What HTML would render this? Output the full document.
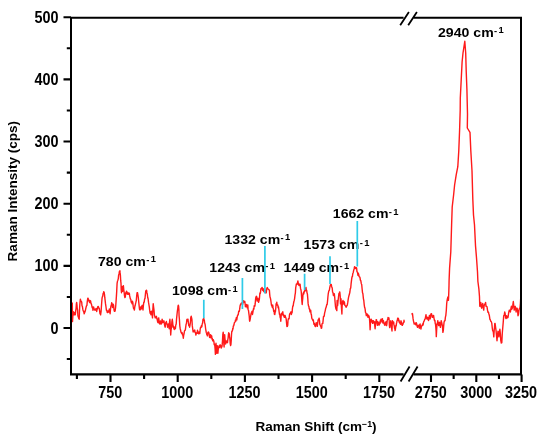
<!DOCTYPE html>
<html><head><meta charset="utf-8"><style>
html,body{margin:0;padding:0;background:#fff;width:550px;height:445px;overflow:hidden}
svg{display:block}
text{font-family:"Liberation Sans",Arial,sans-serif;font-weight:bold;fill:#000}
.t{font-size:16px}
.a{font-size:13px}
.n{font-size:12.5px}
</style></head><body>
<svg width="550" height="445" viewBox="0 0 550 445">
<rect width="550" height="445" fill="#fff"/>
<polyline points="72.3,302.5 72.5,321.6 72.8,316.9 73.1,313.7 73.3,311.8 73.6,312.6 73.9,314.3 74.2,314.8 74.5,312.5 74.7,313.7 75.0,314.4 75.3,314.8 75.7,310.9 76.1,308.1 76.4,303.5 76.7,302.5 77.0,305.3 77.2,308.1 77.6,310.2 77.9,316.0 78.3,316.8 78.7,318.2 79.0,317.0 79.2,319.3 79.5,310.4 79.8,304.7 80.1,301.6 80.4,299.1 80.8,301.5 81.3,301.3 81.7,302.0 82.0,305.8 82.4,306.4 82.8,309.2 83.2,310.9 83.7,311.5 84.2,313.8 84.6,312.6 85.0,311.8 85.4,310.3 86.0,307.6 86.5,305.8 86.9,305.5 87.3,301.3 87.8,298.1 88.2,298.5 88.6,300.8 88.9,300.2 89.2,300.5 89.6,302.5 89.9,300.5 90.2,301.3 90.6,300.9 91.0,303.6 91.4,303.9 91.8,305.8 92.2,307.7 92.5,307.0 92.7,307.4 92.9,310.3 93.2,309.0 93.6,307.0 94.0,308.7 94.4,309.2 94.7,309.2 95.0,310.3 95.5,309.7 95.9,308.7 96.3,308.4 96.7,311.5 97.1,308.6 97.4,309.2 97.8,306.6 98.3,306.4 98.8,308.0 99.2,308.1 99.6,310.6 100.0,313.7 100.3,313.5 100.6,314.8 100.8,313.5 101.1,311.5 101.4,306.8 101.7,302.5 102.0,298.9 102.3,296.9 102.7,296.4 103.1,293.5 103.4,293.4 103.7,291.8 104.1,292.2 104.5,294.6 104.8,297.7 105.1,300.2 105.5,303.7 106.0,307.0 106.4,310.2 106.8,310.3 107.2,312.4 107.6,312.6 107.7,312.2 108.1,310.9 108.5,311.4 108.9,312.1 109.3,309.0 109.7,309.9 110.1,313.7 110.5,309.5 110.9,305.9 111.3,305.3 111.7,302.7 112.1,303.7 112.5,307.5 112.8,305.8 113.2,304.3 113.6,305.2 114.0,309.8 114.4,311.3 114.8,311.4 115.2,310.5 115.6,307.5 116.0,302.2 116.4,296.4 116.7,291.4 117.1,283.3 117.5,281.0 117.9,280.2 118.3,278.6 118.6,275.4 119.0,273.9 119.4,271.5 119.7,271.4 119.9,270.7 120.1,272.9 120.4,275.4 120.7,280.7 121.0,283.3 121.2,289.8 121.5,292.7 121.8,289.5 122.1,286.4 122.3,289.5 122.6,291.2 123.0,286.7 123.4,285.7 123.8,290.0 124.2,292.7 124.5,295.7 124.9,297.5 125.3,297.1 125.7,292.7 126.1,293.2 126.5,291.2 126.9,291.9 127.3,294.3 127.7,293.1 128.1,292.7 128.5,294.2 128.9,294.3 129.3,293.2 129.7,295.9 130.0,297.3 130.4,299.0 130.8,299.3 131.2,302.2 131.6,301.4 132.0,303.7 132.4,301.2 132.8,302.2 133.2,306.4 133.6,308.5 134.0,307.8 134.4,310.0 134.8,306.7 135.2,305.3 135.6,303.3 135.9,302.2 136.3,300.5 136.7,295.9 137.1,292.6 137.5,292.7 137.9,294.9 138.3,297.5 138.7,301.6 139.1,305.3 139.5,309.2 139.9,310.0 140.3,309.7 140.7,306.9 141.1,309.1 141.4,308.5 141.8,306.0 142.2,305.3 142.6,307.3 143.0,310.0 143.4,305.5 143.8,302.2 144.2,302.1 144.6,299.0 145.0,298.5 145.4,294.3 145.8,290.9 146.2,290.4 146.6,290.3 146.9,292.7 147.3,294.0 147.7,297.5 148.1,298.7 148.5,302.2 148.9,304.5 149.3,306.9 149.7,310.4 150.1,313.2 150.5,313.0 150.9,314.7 151.3,311.2 151.7,311.6 152.1,314.4 152.5,317.9 152.8,310.3 153.2,303.7 153.6,307.2 154.0,310.0 154.4,315.0 154.8,316.3 155.2,317.9 155.6,317.9 156.0,317.2 156.4,316.3 156.8,318.4 157.2,319.5 157.6,321.7 158.0,322.6 158.3,318.5 158.7,317.9 158.9,319.3 159.3,323.3 159.7,324.0 160.1,323.6 160.5,320.9 160.9,324.0 161.3,324.0 161.7,322.9 162.1,319.3 162.5,320.5 162.9,322.5 163.3,321.3 163.6,320.9 164.0,320.9 164.4,324.0 164.8,326.1 165.2,327.2 165.6,323.1 166.0,322.5 166.4,321.5 166.8,324.0 167.2,324.4 167.6,327.2 168.0,324.2 168.4,324.0 168.8,325.7 169.2,328.7 169.5,322.2 169.9,319.3 170.3,325.2 170.7,335.0 171.1,329.7 171.5,327.2 171.9,321.6 172.3,319.3 172.7,322.7 173.1,327.2 173.5,326.1 173.9,328.7 174.3,329.5 174.7,327.2 175.0,328.4 175.4,328.7 175.8,325.0 176.2,324.0 176.6,318.3 177.0,314.6 177.4,310.8 177.8,308.3 178.0,306.2 178.3,305.2 178.6,306.0 178.9,309.9 179.1,316.0 179.4,319.3 179.8,326.0 180.2,328.7 180.6,330.2 180.9,331.9 181.3,332.6 181.7,333.5 182.1,332.6 182.5,335.0 182.9,335.0 183.3,338.2 183.7,335.2 184.1,333.5 184.5,330.9 184.9,330.3 185.3,330.1 185.7,327.2 186.1,324.2 186.4,324.0 186.8,319.8 187.2,319.3 187.6,321.1 188.0,319.3 188.4,322.6 188.8,325.6 189.2,325.0 189.6,327.2 190.0,325.0 190.4,322.5 190.8,317.4 191.2,316.2 191.6,317.8 191.9,319.3 192.3,325.9 192.7,328.7 193.1,331.8 193.5,331.9 193.9,331.9 194.3,330.3 194.7,330.1 195.1,331.9 195.5,332.9 195.9,335.0 196.3,332.9 196.7,333.5 197.1,333.0 197.5,330.3 197.8,332.0 198.2,333.5 198.6,333.8 199.0,331.9 199.4,332.0 199.8,333.5 200.2,329.2 200.6,327.2 201.0,327.6 201.4,325.6 201.8,326.8 202.2,324.0 202.6,323.1 203.0,319.3 203.3,319.9 203.7,318.0 204.0,320.2 204.3,319.9 204.6,322.7 204.9,323.6 205.2,325.0 205.6,328.5 205.9,330.4 206.2,332.2 206.5,332.9 206.8,334.7 207.1,333.4 207.4,335.9 207.7,332.8 208.0,333.5 208.3,332.0 208.6,332.2 209.0,333.1 209.3,335.9 209.6,337.3 209.9,337.2 210.2,337.8 210.5,334.7 210.8,335.1 211.1,335.9 211.4,337.7 211.7,335.9 212.0,339.1 212.3,338.4 212.7,340.8 213.0,339.6 213.3,339.7 213.6,340.9 213.9,341.6 214.2,344.6 214.5,344.1 214.8,345.8 215.1,348.9 215.4,354.4 215.7,347.7 216.0,343.3 216.4,348.8 216.7,353.2 217.0,351.1 217.3,345.8 217.6,350.9 217.9,353.2 218.2,350.0 218.5,347.0 218.8,347.0 219.1,345.8 219.4,347.6 219.8,347.0 220.1,344.8 220.4,345.8 220.7,346.4 221.0,345.8 221.3,348.1 221.6,347.0 221.9,346.9 222.2,344.6 222.5,340.6 222.8,334.7 223.0,333.4 223.2,332.2 223.5,335.3 223.7,340.9 223.9,345.1 224.1,347.0 224.4,340.2 224.7,334.7 225.0,339.0 225.3,340.9 225.6,344.0 225.9,343.3 226.2,341.7 226.5,340.9 226.9,341.1 227.2,342.1 227.5,342.7 227.8,339.6 228.1,338.1 228.4,334.7 228.7,332.8 229.0,333.5 229.3,333.8 229.6,337.2 229.9,338.9 230.2,343.3 230.6,345.6 230.9,344.6 231.2,340.9 231.5,334.7 231.8,331.4 232.1,331.0 232.4,331.1 232.7,328.5 233.0,329.2 233.3,326.0 233.6,326.1 234.0,324.8 234.3,323.0 234.6,322.3 234.9,322.2 235.2,321.7 235.5,319.9 235.8,321.1 236.3,317.6 236.8,319.8 237.2,317.0 237.7,314.9 238.2,314.9 238.7,311.3 239.2,311.5 239.6,309.7 240.1,305.7 240.6,304.3 241.1,303.7 241.4,302.9 241.7,303.7 242.1,303.3 242.4,305.0 242.7,304.0 243.1,302.3 243.4,300.7 243.8,301.0 244.1,301.3 244.4,302.3 244.8,301.5 245.1,303.7 245.4,306.7 245.8,306.4 246.1,304.8 246.5,304.4 246.8,305.9 247.1,307.7 247.5,306.7 247.8,305.0 248.1,309.4 248.5,310.4 248.8,312.8 249.2,315.8 249.5,320.2 249.8,321.2 250.2,319.2 250.5,317.2 250.8,315.3 251.2,313.1 251.5,312.5 251.8,311.8 252.2,311.2 252.5,314.5 252.9,312.2 253.2,310.4 253.5,308.5 253.9,309.1 254.2,305.8 254.5,306.4 254.9,306.2 255.2,303.7 255.6,299.0 255.9,297.0 256.2,296.5 256.6,296.3 256.9,299.5 257.2,301.0 257.6,299.9 257.9,298.3 258.2,299.6 258.6,302.3 258.9,301.1 259.3,299.6 259.6,296.5 259.9,292.9 260.3,293.4 260.6,291.6 260.9,288.6 261.3,288.9 261.6,288.4 262.0,287.5 262.3,287.9 262.6,290.2 263.0,288.6 263.3,288.9 263.6,291.3 264.0,291.6 264.3,291.9 264.6,292.2 265.0,291.5 265.3,290.2 265.7,292.6 266.0,292.9 266.3,292.5 266.7,288.9 267.0,288.0 267.3,287.5 267.7,288.6 268.0,288.9 268.4,289.2 268.7,289.5 269.0,289.9 269.4,290.2 269.7,294.4 270.0,297.0 270.4,298.1 270.7,299.6 271.1,302.5 271.4,305.0 271.7,305.6 272.1,306.4 272.4,307.5 272.7,305.0 273.1,307.9 273.4,309.1 273.7,311.3 274.1,310.4 274.4,314.2 274.8,314.5 275.1,312.2 275.4,311.8 275.8,308.0 276.1,303.7 276.4,304.8 276.8,302.3 277.1,305.1 277.5,305.0 277.8,304.9 278.1,307.7 278.5,306.9 278.8,309.1 279.1,311.5 279.5,314.5 279.8,314.1 280.1,317.2 280.5,318.2 280.8,321.2 281.2,315.5 281.5,313.1 281.8,314.5 282.2,314.5 282.5,314.3 282.8,311.8 283.2,315.4 283.5,315.8 283.9,315.1 284.2,317.2 284.7,317.2 285.1,315.4 285.5,317.2 285.8,317.6 286.2,319.1 286.6,323.5 286.9,326.5 287.3,326.4 287.7,325.3 288.0,320.6 288.4,318.7 288.8,319.1 289.1,318.7 289.5,314.7 289.9,313.6 290.2,313.2 290.6,312.5 291.0,311.8 291.3,314.5 291.7,313.2 292.1,312.4 292.4,308.9 292.8,306.0 293.2,305.9 293.5,303.5 293.9,301.5 294.3,300.2 294.6,298.6 295.0,295.1 295.4,292.8 295.7,287.9 296.1,285.5 296.4,284.0 296.8,284.0 297.2,284.2 297.5,282.5 297.9,281.0 298.3,283.3 298.6,284.6 299.0,285.5 299.4,284.5 299.7,284.0 300.1,284.3 300.5,288.4 300.8,289.2 301.2,291.3 301.6,296.9 301.9,301.5 302.2,304.5 302.4,301.6 302.7,298.6 303.0,294.0 303.4,292.8 303.8,294.0 304.1,291.3 304.5,291.7 304.9,289.9 305.2,291.0 305.6,288.4 306.0,287.5 306.3,289.9 306.7,290.4 307.0,292.8 307.4,293.9 307.8,298.6 308.1,303.4 308.5,305.9 308.9,306.5 309.2,308.9 309.6,308.8 310.0,311.8 310.3,310.7 310.7,310.3 311.1,314.2 311.4,314.7 311.8,318.2 312.2,319.1 312.5,318.9 312.9,320.6 313.3,319.9 313.6,322.0 314.0,324.4 314.4,323.5 314.7,325.2 315.1,326.4 315.5,326.5 315.8,324.9 316.2,322.6 316.5,323.5 316.9,323.2 317.3,326.4 317.6,324.2 318.0,320.6 318.4,319.5 318.7,319.1 319.1,318.1 319.5,320.6 319.8,324.5 320.2,324.9 320.6,326.2 320.9,326.4 321.3,328.3 321.7,327.9 322.0,324.0 322.4,323.5 322.8,323.4 323.1,320.6 323.5,316.6 323.9,316.2 324.2,316.2 324.6,313.2 325.0,311.6 325.3,310.3 325.7,308.2 326.1,307.4 326.4,306.1 326.8,304.5 327.1,304.7 327.5,301.5 327.9,297.0 328.2,294.2 328.8,290.8 329.3,290.5 329.8,287.4 330.4,284.9 330.9,284.5 331.3,284.4 331.7,287.0 332.2,287.8 332.6,292.1 333.0,292.6 333.4,295.5 333.9,293.9 334.3,293.8 334.7,297.2 335.1,302.2 335.5,306.6 336.0,309.0 336.4,309.0 336.8,310.6 337.0,305.6 337.1,300.5 337.4,301.8 337.6,305.6 338.1,300.8 338.5,297.2 338.9,293.5 339.3,293.8 339.6,291.9 339.8,292.1 340.2,296.1 340.5,303.9 340.8,302.3 341.0,298.8 341.4,306.6 341.9,314.0 342.1,306.9 342.4,302.2 342.7,301.3 343.0,300.5 343.3,304.0 343.5,303.9 344.0,301.5 344.4,302.2 344.8,305.2 345.2,305.6 345.7,306.2 346.1,307.3 346.5,306.4 346.9,305.6 347.3,305.2 347.8,302.2 348.2,299.3 348.6,297.2 349.0,295.5 349.5,293.8 349.9,292.0 350.3,288.7 350.7,288.1 351.1,283.7 351.6,279.7 352.0,276.9 352.4,276.6 352.8,273.5 353.2,272.7 353.7,270.2 354.1,269.0 354.5,266.8 354.9,267.3 355.4,268.5 355.8,267.5 356.2,267.6 356.6,268.0 357.0,271.9 357.5,272.1 357.9,275.2 358.3,273.1 358.7,274.4 359.1,276.6 359.6,276.9 360.0,277.6 360.4,280.3 360.8,280.6 361.3,283.7 361.7,284.5 362.1,288.7 362.5,292.6 362.9,293.8 363.4,298.6 363.8,300.5 364.2,304.6 364.6,307.3 365.1,308.9 365.5,312.3 365.9,313.0 366.3,315.7 366.7,314.0 367.2,314.0 367.6,315.5 368.0,317.4 368.4,315.2 368.8,315.7 368.9,316.3 369.2,317.3 369.5,318.6 369.8,323.3 370.1,329.8 370.3,326.6 370.6,319.7 370.9,321.3 371.2,319.2 371.5,320.8 371.7,322.0 372.0,320.4 372.3,320.8 372.6,323.3 372.9,322.0 373.1,320.6 373.4,320.8 373.7,321.4 374.0,323.1 374.3,321.7 374.6,324.2 374.8,326.0 375.1,328.7 375.4,325.2 375.7,322.0 376.0,320.9 376.2,319.7 376.5,319.6 376.8,322.0 377.1,323.7 377.4,325.3 377.6,321.7 377.9,322.0 378.2,322.1 378.5,324.2 378.8,323.1 379.0,325.3 379.3,324.4 379.6,324.2 379.9,321.8 380.2,323.1 380.4,320.1 380.7,320.8 381.0,319.2 381.3,319.2 381.6,319.5 381.9,322.0 382.1,320.6 382.4,318.6 382.7,321.0 383.0,323.1 383.3,323.0 383.5,320.8 383.8,322.6 384.1,323.1 384.4,324.5 384.7,324.2 384.9,325.4 385.2,323.7 385.5,322.4 385.8,322.0 386.1,321.8 386.3,323.1 386.6,325.6 386.9,324.2 387.2,320.6 387.5,319.7 387.8,319.5 388.0,317.5 388.3,318.6 388.6,318.6 388.9,317.9 389.2,320.8 389.4,325.6 389.7,327.6 390.0,326.9 390.3,323.1 390.6,322.5 390.8,320.8 391.1,323.5 391.4,324.2 391.7,328.8 392.0,331.0 392.2,324.5 392.5,320.8 392.8,322.1 393.1,323.1 393.4,322.5 393.7,322.0 393.9,325.0 394.2,325.3 394.5,328.2 394.8,328.7 395.1,330.6 395.3,329.8 395.6,327.9 395.9,325.3 396.2,325.8 396.5,323.1 396.7,322.7 397.0,320.8 397.3,320.5 397.6,318.6 397.9,318.1 398.1,319.7 398.4,318.4 398.7,320.8 399.0,320.2 399.3,322.5 399.6,322.3 399.8,323.1 400.1,322.1 400.4,324.2 400.7,323.9 401.0,320.8 401.2,321.6 401.5,322.0 401.8,324.2 402.1,325.3 402.4,325.3 402.6,324.2 402.9,324.4 403.2,323.1 403.5,322.5 403.8,322.0 404.0,320.3 404.3,322.5" fill="none" stroke="#ff1a1a" stroke-width="1.4" stroke-linejoin="round"/>
<polyline points="412.0,313.0 412.3,314.6 412.5,313.8 413.0,318.2 413.4,320.6 413.8,322.3 414.2,324.0 414.6,323.7 415.1,323.1 415.5,324.6 415.9,324.8 416.3,322.6 416.7,324.0 417.2,326.6 417.6,327.3 418.0,325.5 418.4,325.6 418.9,325.2 419.3,328.2 419.7,325.1 420.1,324.0 420.5,327.4 421.0,329.0 421.4,326.2 421.8,325.6 422.2,325.8 422.6,324.0 423.1,325.0 423.5,322.3 423.9,321.4 424.3,320.6 424.8,319.3 425.2,318.9 425.6,316.7 426.0,314.7 426.4,317.5 426.9,318.9 427.3,319.1 427.7,317.2 428.1,319.4 428.5,320.6 429.0,318.6 429.4,315.5 429.8,315.5 430.2,318.9 430.7,315.0 431.1,313.8 431.5,313.7 431.9,315.5 432.3,317.3 432.8,317.2 433.2,315.6 433.6,315.5 434.0,318.3 434.5,320.6 434.9,320.3 435.3,324.0 435.5,323.9 435.8,327.3 436.1,331.0 436.3,336.6 436.6,331.0 437.0,324.0 437.4,323.0 437.8,320.6 438.2,323.8 438.7,325.6 439.1,323.1 439.5,322.3 439.9,324.9 440.4,327.3 440.8,323.8 441.2,320.6 441.6,322.1 442.0,324.0 442.5,326.7 442.9,332.4 443.3,330.6 443.7,325.6 444.1,321.9 444.6,320.6 445.0,320.8 445.4,317.2 445.8,315.6 446.3,310.5 446.7,303.5 447.1,300.4 447.5,298.5 447.9,297.0 448.2,299.9 448.4,300.4 448.6,298.0 448.8,291.9 449.0,285.8 449.1,280.1 449.6,267.9 450.8,251.7 451.6,225.0 452.2,207.0 453.6,195.0 454.6,185.0 456.2,174.8 457.8,166.7 458.8,150.5 459.6,130.0 460.2,110.0 460.3,98.0 461.2,80.0 462.1,62.0 463.0,53.0 464.8,41.3 465.7,53.0 466.2,71.0 466.9,89.0 467.5,114.0 467.3,128.0 470.0,132.3 470.8,150.5 472.0,170.7 472.8,199.0 473.5,215.0 474.5,225.0 475.5,245.6 476.5,257.8 477.5,272.0 477.9,281.5 478.9,289.1 479.5,296.7 479.6,300.6 479.8,306.3 480.3,303.2 480.8,302.5 481.3,307.1 481.7,308.2 482.2,304.7 482.7,303.4 483.2,307.1 483.7,310.1 484.1,305.8 484.6,304.4 485.1,303.5 485.6,302.5 486.0,306.2 486.5,306.3 487.0,306.7 487.5,310.1 488.0,312.4 488.4,312.0 488.9,314.0 489.4,315.8 489.9,319.3 490.3,319.7 490.8,321.4 491.3,321.6 491.8,323.4 492.2,327.3 492.7,330.8 493.2,331.1 493.5,333.9 493.8,336.9 494.2,330.2 494.5,327.3 494.8,323.4 495.1,323.5 495.6,327.3 496.1,331.1 496.5,335.7 497.0,340.7 497.5,335.1 498.0,331.1 498.5,332.6 498.9,336.9 499.4,332.4 499.9,329.2 500.4,334.2 500.8,340.7 501.3,343.0 501.8,342.6 502.3,333.0 502.8,327.3 503.2,322.6 503.7,315.8 504.2,315.3 504.7,312.0 505.1,313.4 505.6,317.8 506.1,318.5 506.6,315.8 507.1,317.7 507.5,317.8 508.0,317.5 508.5,313.9 509.0,311.2 509.4,310.1 509.9,310.6 510.4,312.0 510.9,308.7 511.4,306.3 511.8,309.2 512.3,308.2 512.8,305.2 513.3,301.5 513.7,305.3 514.2,310.1 514.7,307.9 515.2,306.3 515.6,308.3 516.1,312.0 516.6,308.3 517.1,308.2 517.6,310.4 518.0,315.8 518.5,314.3 519.0,310.1 519.5,308.3 519.9,308.2 520.4,303.3 520.9,294.8" fill="none" stroke="#ff1a1a" stroke-width="1.4" stroke-linejoin="round"/>
<path d="M71,17.7 H403.6 M413.6,17.7 H521 V374.4 M71,17.7 V374.4" stroke="#000" stroke-width="2" fill="none"/>
<path d="M70,374.4 H403.6 M413.6,374.4 H522" stroke="#000" stroke-width="2.3" fill="none"/>
<path d="M400.6,381.5 L409.6,366.5 M408.6,381.5 L417.6,366.5 M400.2,25.2 L408.9,12 M408.2,25.2 L416.9,12" stroke="#000" stroke-width="1.8" fill="none"/>
<path d="M63.5,328.00 H71 M63.5,265.85 H71 M63.5,203.70 H71 M63.5,141.55 H71 M63.5,79.40 H71 M63.5,17.25 H71 M66.8,359.07 H71 M66.8,296.93 H71 M66.8,234.77 H71 M66.8,172.62 H71 M66.8,110.47 H71 M66.8,48.32 H71 M110.50,374.4 V382 M177.70,374.4 V382 M244.90,374.4 V382 M312.10,374.4 V382 M379.30,374.4 V382 M76.90,374.4 V379 M144.10,374.4 V379 M211.30,374.4 V379 M278.50,374.4 V379 M345.70,374.4 V379 M431.00,374.4 V382 M476.30,374.4 V382 M521.60,374.4 V382 M453.65,374.4 V379 M498.95,374.4 V379" stroke="#000" stroke-width="2.1" fill="none"/>
<text transform="translate(58.5,333.50) scale(0.9,1)" text-anchor="end" class="t">0</text>
<text transform="translate(58.5,271.35) scale(0.9,1)" text-anchor="end" class="t">100</text>
<text transform="translate(58.5,209.20) scale(0.9,1)" text-anchor="end" class="t">200</text>
<text transform="translate(58.5,147.05) scale(0.9,1)" text-anchor="end" class="t">300</text>
<text transform="translate(58.5,84.90) scale(0.9,1)" text-anchor="end" class="t">400</text>
<text transform="translate(58.5,22.75) scale(0.9,1)" text-anchor="end" class="t">500</text>
<text transform="translate(110.20,398.3) scale(0.9,1)" text-anchor="middle" class="t">750</text>
<text transform="translate(177.20,398.3) scale(0.9,1)" text-anchor="middle" class="t">1000</text>
<text transform="translate(244.60,398.3) scale(0.9,1)" text-anchor="middle" class="t">1250</text>
<text transform="translate(311.70,398.3) scale(0.9,1)" text-anchor="middle" class="t">1500</text>
<text transform="translate(378.90,398.3) scale(0.9,1)" text-anchor="middle" class="t">1750</text>
<text transform="translate(430.70,398.3) scale(0.9,1)" text-anchor="middle" class="t">2750</text>
<text transform="translate(476.20,398.3) scale(0.9,1)" text-anchor="middle" class="t">3000</text>
<text transform="translate(521.00,398.3) scale(0.9,1)" text-anchor="middle" class="t">3250</text>
<text transform="translate(17,191.2) rotate(-90) scale(1.04,1)" text-anchor="middle" class="a">Raman Intensity (cps)</text>
<text transform="translate(316,430.9) scale(1.04,1)" text-anchor="middle" class="a">Raman Shift (cm<tspan font-size="8.5" dy="-3.6">−1</tspan><tspan dy="3.6">)</tspan></text>
<text transform="translate(98,265.7) scale(1.13,1)" class="n">780 cm<tspan font-size="8.3" dy="-2.8" dx="0.3">-</tspan><tspan font-size="8.3" dx="1.2" dy="-0.6">1</tspan></text>
<text transform="translate(172,295.3) scale(1.13,1)" class="n">1098 cm<tspan font-size="8.3" dy="-2.8" dx="0.3">-</tspan><tspan font-size="8.3" dx="1.2" dy="-0.6">1</tspan></text>
<text transform="translate(209.3,272.2) scale(1.13,1)" class="n">1243 cm<tspan font-size="8.3" dy="-2.8" dx="0.3">-</tspan><tspan font-size="8.3" dx="1.2" dy="-0.6">1</tspan></text>
<text transform="translate(224.5,243.5) scale(1.13,1)" class="n">1332 cm<tspan font-size="8.3" dy="-2.8" dx="0.3">-</tspan><tspan font-size="8.3" dx="1.2" dy="-0.6">1</tspan></text>
<text transform="translate(283.4,272) scale(1.13,1)" class="n">1449 cm<tspan font-size="8.3" dy="-2.8" dx="0.3">-</tspan><tspan font-size="8.3" dx="1.2" dy="-0.6">1</tspan></text>
<text transform="translate(303.6,249) scale(1.13,1)" class="n">1573 cm<tspan font-size="8.3" dy="-2.8" dx="0.3">-</tspan><tspan font-size="8.3" dx="1.2" dy="-0.6">1</tspan></text>
<text transform="translate(332.8,218) scale(1.13,1)" class="n">1662 cm<tspan font-size="8.3" dy="-2.8" dx="0.3">-</tspan><tspan font-size="8.3" dx="1.2" dy="-0.6">1</tspan></text>
<text transform="translate(438,36.7) scale(1.13,1)" class="n">2940 cm<tspan font-size="8.3" dy="-2.8" dx="0.3">-</tspan><tspan font-size="8.3" dx="1.2" dy="-0.6">1</tspan></text>
<path d="M203.8,299.7 V318.2 M242.4,278 V309 M264.9,246 V293.6 M304.6,273.8 V290 M330,256.2 V284 M357.3,221 V266.6" stroke="#2fcbe8" stroke-width="1.7" fill="none"/>
</svg>
</body></html>
